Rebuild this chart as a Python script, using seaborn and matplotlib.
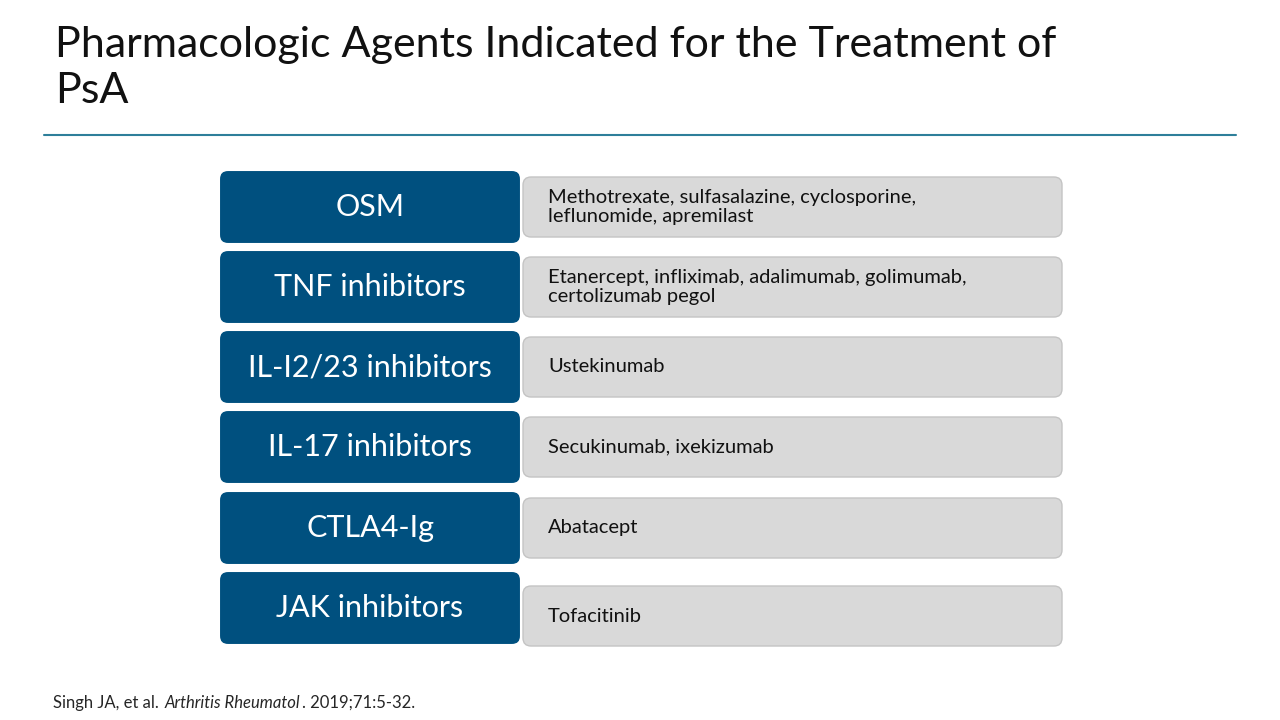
import matplotlib
matplotlib.use("Agg")
import matplotlib.pyplot as plt
from matplotlib.patches import FancyBboxPatch
import seaborn as sns

CATEGORIES = ["OSM", "TNF inhibitors", "IL-I2/23 inhibitors", "IL-17 inhibitors", "CTLA4-Ig", "JAK inhibitors"]
AGENTS = [
    "Methotrexate, sulfasalazine, cyclosporine,\nleflunomide, apremilast",
    "Etanercept, infliximab, adalimumab, golimumab,\ncertolizumab pegol",
    "Ustekinumab",
    "Secukinumab, ixekizumab",
    "Abatacept",
    "Tofacitinib",
]
TITLE = "Pharmacologic Agents Indicated for the Treatment of\nPsA"

DARK = "#00507F"
LIGHT = "#D9D9D9"

sns.set_theme(style="white")
plt.rcParams["font.family"] = ["Lato", "DejaVu Sans"]

fig = plt.figure(figsize=(12.8, 7.2), dpi=100)
ax = fig.add_axes([0, 0, 1, 1])
ax.set_xlim(0, 1280)
ax.set_ylim(720, 0)
ax.axis("off")

ax.text(55, 68, TITLE, fontsize=31, va="center", ha="left", color="#111111", linespacing=1.25)
ax.plot([44, 1236], [135, 135], color="#2E7F9A", lw=1.5)

tops = [170, 250, 330, 410, 491, 571]
for i, (cat, agent) in enumerate(zip(CATEGORIES, AGENTS)):
    top = tops[i]
    cy = top + 37
    ly = cy - 30 + (8 if i == len(CATEGORIES) - 1 else 0)
    ax.add_patch(FancyBboxPatch((523, ly), 539, 60, boxstyle="round,pad=0,rounding_size=8",
                                fc=LIGHT, ec="#C4C4C4", lw=1))
    ax.add_patch(FancyBboxPatch((219, top), 302, 74, boxstyle="round,pad=0,rounding_size=9",
                                fc=DARK, ec="white", lw=1.5))
    ax.text(370, cy, cat, color="white", fontsize=22, ha="center", va="center")
    ax.text(548, ly + 30, agent, color="#111111", fontsize=14.5, ha="left", va="center", linespacing=1.2)

ax.text(53, 703, "Singh JA, et al. ", fontsize=12, va="center", ha="left")
ax.text(165, 703, "Arthritis Rheumatol", fontsize=12, va="center", ha="left", style="italic")
ax.text(302, 703, ". 2019;71:5-32.", fontsize=12, va="center", ha="left")

fig.savefig("out.png", dpi=100)
